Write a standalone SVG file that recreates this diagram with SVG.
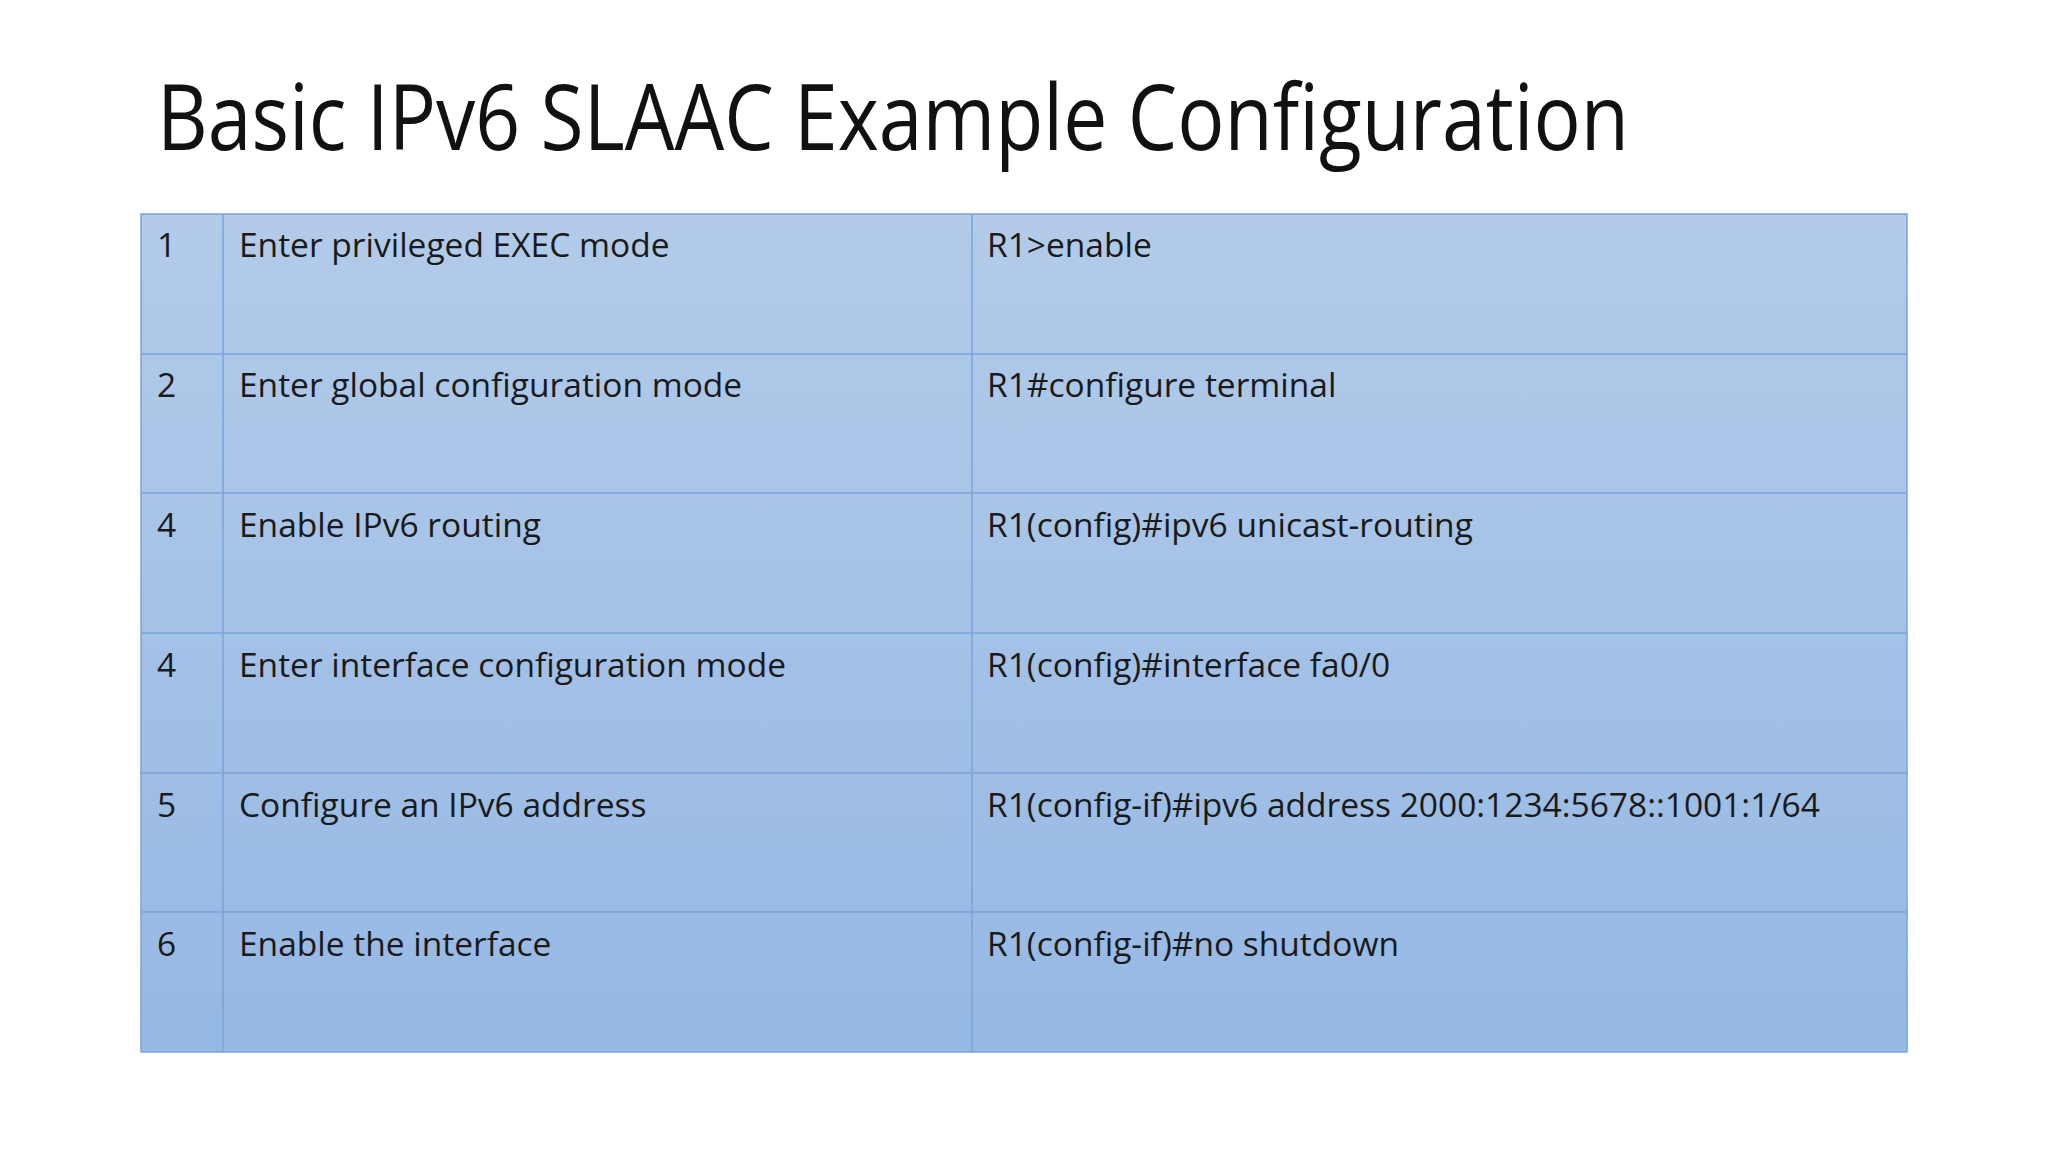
<svg xmlns="http://www.w3.org/2000/svg" width="2048" height="1152" viewBox="0 0 2048 1152">
<defs><linearGradient id="g" x1="0" y1="0" x2="0" y2="1"><stop offset="0" stop-color="#b3cbe9"/><stop offset="1" stop-color="#95b8e4"/></linearGradient></defs>
<style>.t{font-family:"Open Sans","Liberation Sans",sans-serif;font-size:33.5px;fill:#1a1a1a}.l{stroke:#7aa4da;stroke-width:1.5;fill:none}</style>
<rect width="2048" height="1152" fill="#fff"/>
<text x="157" y="150" font-family="Open Sans, Liberation Sans, sans-serif" font-size="92" fill="#111" textLength="1472" lengthAdjust="spacingAndGlyphs">Basic IPv6 SLAAC Example Configuration</text>
<g id="table">
<rect x="141" y="214" width="1766" height="838" style="fill:url(#g);stroke:#7aa4da;stroke-width:1.5"/>
<path class="l" d="M223 214V1052M972 214V1052M141 354H1907M141 493H1907M141 633H1907M141 773H1907M141 912H1907"/>
</g>
<g id="r1"><text class="t" x="157" y="257">1</text><text class="t" x="239" y="257">Enter privileged EXEC mode</text><text class="t" x="987" y="257">R1&gt;enable</text></g>
<g id="r2"><text class="t" x="157" y="397">2</text><text class="t" x="239" y="397">Enter global configuration mode</text><text class="t" x="987" y="397">R1#configure terminal</text></g>
<g id="r3"><text class="t" x="157" y="537">4</text><text class="t" x="239" y="537">Enable IPv6 routing</text><text class="t" x="987" y="537">R1(config)#ipv6 unicast-routing</text></g>
<g id="r4"><text class="t" x="157" y="677">4</text><text class="t" x="239" y="677">Enter interface configuration mode</text><text class="t" x="987" y="677">R1(config)#interface fa0/0</text></g>
<g id="r5"><text class="t" x="157" y="817">5</text><text class="t" x="239" y="817">Configure an IPv6 address</text><text class="t" x="987" y="817">R1(config-if)#ipv6 address 2000:1234:5678::1001:1/64</text></g>
<g id="r6"><text class="t" x="157" y="956">6</text><text class="t" x="239" y="956">Enable the interface</text><text class="t" x="987" y="956">R1(config-if)#no shutdown</text></g>
</svg>
